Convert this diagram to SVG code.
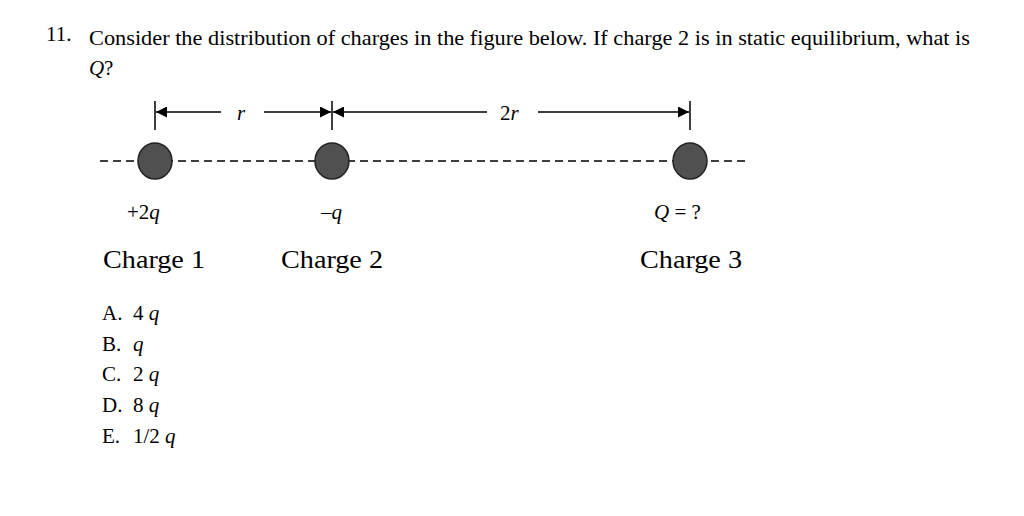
<svg xmlns="http://www.w3.org/2000/svg" width="1024" height="516" viewBox="0 0 1024 516">
<style>
text{font-family:"Liberation Serif","Times New Roman",serif;fill:#000}
.t{font-size:21px}
.l{font-size:25px}
.i{font-style:italic}
.ln{stroke:#000;stroke-width:1.5;fill:none}
.c{fill:#505050;stroke:#222;stroke-width:1.5}
</style>
<defs><marker id="a" viewBox="0 0 10 10" refX="10" refY="5" markerWidth="11" markerHeight="11" markerUnits="userSpaceOnUse" orient="auto-start-reverse"><path d="M0,0L10,5L0,10z" fill="#000"/></marker></defs>
<rect width="1024" height="516" fill="#fff"/>
<text class="t" x="46" y="41">11.</text>
<text class="t" x="89" y="45" textLength="881" lengthAdjust="spacingAndGlyphs">Consider the distribution of charges in the figure below. If charge 2 is in static equilibrium, what is</text>
<text class="t i" x="89" y="75">Q</text><text class="t" x="104" y="75">?</text>
<g id="connectors">
<line class="ln" x1="100" y1="161" x2="745" y2="161" stroke-dasharray="8,5"/>
<line class="ln" x1="155" y1="101" x2="155" y2="130"/>
<line class="ln" x1="332" y1="101" x2="332" y2="130"/>
<line class="ln" x1="690" y1="101" x2="690" y2="130"/>
<line class="ln" x1="156" y1="112" x2="221" y2="112" marker-start="url(#a)"/>
<line class="ln" x1="264" y1="112" x2="331" y2="112" marker-end="url(#a)"/>
<line class="ln" x1="333" y1="112" x2="487" y2="112" marker-start="url(#a)"/>
<line class="ln" x1="538" y1="112" x2="689" y2="112" marker-end="url(#a)"/>
<text class="t i" x="237" y="120">r</text>
<text class="t" x="500" y="120">2<tspan class="i">r</tspan></text>
</g>
<g id="charge1"><ellipse class="c" cx="155" cy="161" rx="17" ry="18"/>
<text class="t" x="127" y="219" font-size="22">+2<tspan class="i">q</tspan></text>
<text class="l" x="103" y="268" textLength="102" lengthAdjust="spacingAndGlyphs">Charge 1</text></g>
<g id="charge2"><ellipse class="c" cx="332" cy="161" rx="17" ry="18"/>
<text class="t" x="321" y="219" font-size="22">–<tspan class="i">q</tspan></text>
<text class="l" x="281" y="268" textLength="102" lengthAdjust="spacingAndGlyphs">Charge 2</text></g>
<g id="charge3"><ellipse class="c" cx="690" cy="161" rx="17" ry="18"/>
<text class="t" x="654" y="219" font-size="22"><tspan class="i">Q</tspan> = ?</text>
<text class="l" x="640" y="268" textLength="102" lengthAdjust="spacingAndGlyphs">Charge 3</text></g>
<g id="answers">
<text class="t" x="102" y="320">A.</text><text class="t" x="133" y="320">4 <tspan class="i">q</tspan></text>
<text class="t" x="102" y="351">B.</text><text class="t i" x="133" y="351">q</text>
<text class="t" x="102" y="381">C.</text><text class="t" x="133" y="381">2 <tspan class="i">q</tspan></text>
<text class="t" x="102" y="412">D.</text><text class="t" x="133" y="412">8 <tspan class="i">q</tspan></text>
<text class="t" x="102" y="443">E.</text><text class="t" x="133" y="443">1/2 <tspan class="i">q</tspan></text>
</g>
</svg>
